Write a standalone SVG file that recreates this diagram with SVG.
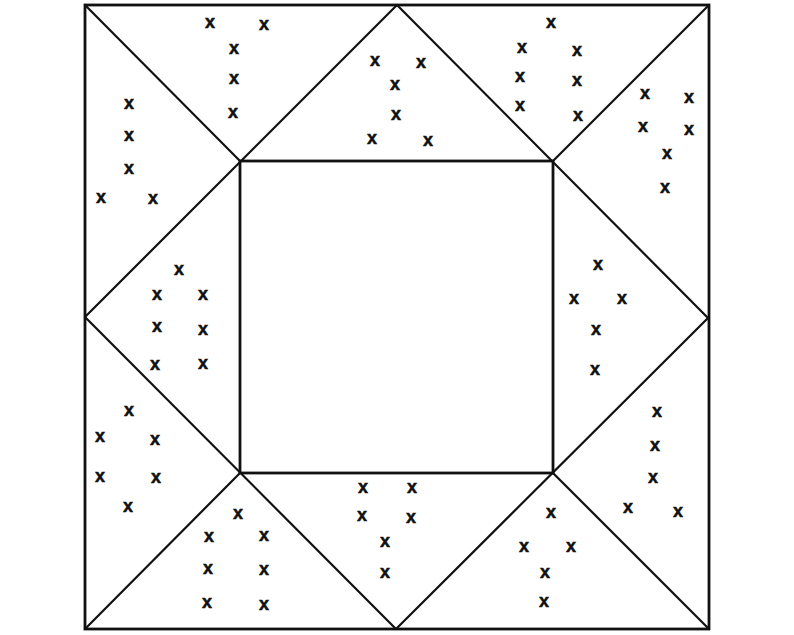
<svg xmlns="http://www.w3.org/2000/svg" width="794" height="635" viewBox="0 0 794 635">
<style>
.ln{stroke:#111;stroke-width:2.2;fill:none;stroke-linecap:round;stroke-linejoin:round}
.bx{stroke:#111;stroke-width:2.8;fill:none}
.m{font-family:"Liberation Sans",Arial,sans-serif;font-weight:bold;font-size:18px;fill:#111;stroke:#111;stroke-width:0.5;text-anchor:middle;dominant-baseline:central}
</style>
<rect width="794" height="635" fill="#fff"/>
<g id="frame">
<rect class="bx" x="85" y="5" width="624" height="624"/>
<rect class="bx" x="240" y="161" width="313" height="312"/>
<polygon class="ln" points="397,5 708,318 396,629 85,317"/>
<line class="ln" x1="85" y1="5" x2="240" y2="161"/>
<line class="ln" x1="709" y1="5" x2="553" y2="161"/>
<line class="ln" x1="85" y1="629" x2="240" y2="473"/>
<line class="ln" x1="709" y1="629" x2="553" y2="473"/>
</g>
<g id="marks">
<text class="m" x="210" y="22">x</text>
<text class="m" x="264" y="24">x</text>
<text class="m" x="234" y="48">x</text>
<text class="m" x="234" y="78">x</text>
<text class="m" x="233" y="112">x</text>
<text class="m" x="375" y="60">x</text>
<text class="m" x="395" y="84">x</text>
<text class="m" x="396" y="114">x</text>
<text class="m" x="372" y="138">x</text>
<text class="m" x="421" y="62">x</text>
<text class="m" x="428" y="140">x</text>
<text class="m" x="129" y="103">x</text>
<text class="m" x="129" y="135">x</text>
<text class="m" x="129" y="168">x</text>
<text class="m" x="101" y="197">x</text>
<text class="m" x="153" y="198">x</text>
<text class="m" x="551" y="22">x</text>
<text class="m" x="522" y="47">x</text>
<text class="m" x="577" y="50">x</text>
<text class="m" x="520" y="76">x</text>
<text class="m" x="577" y="80">x</text>
<text class="m" x="520" y="105">x</text>
<text class="m" x="578" y="115">x</text>
<text class="m" x="645" y="93">x</text>
<text class="m" x="689" y="97">x</text>
<text class="m" x="643" y="126">x</text>
<text class="m" x="689" y="129">x</text>
<text class="m" x="667" y="153">x</text>
<text class="m" x="665" y="187">x</text>
<text class="m" x="179" y="269">x</text>
<text class="m" x="157" y="294">x</text>
<text class="m" x="203" y="294">x</text>
<text class="m" x="157" y="326">x</text>
<text class="m" x="203" y="329">x</text>
<text class="m" x="155" y="364">x</text>
<text class="m" x="203" y="363">x</text>
<text class="m" x="598" y="264">x</text>
<text class="m" x="574" y="298">x</text>
<text class="m" x="622" y="298">x</text>
<text class="m" x="596" y="329">x</text>
<text class="m" x="595" y="369">x</text>
<text class="m" x="129" y="410">x</text>
<text class="m" x="100" y="436">x</text>
<text class="m" x="155" y="439">x</text>
<text class="m" x="100" y="476">x</text>
<text class="m" x="156" y="477">x</text>
<text class="m" x="128" y="506">x</text>
<text class="m" x="238" y="513">x</text>
<text class="m" x="209" y="536">x</text>
<text class="m" x="264" y="535">x</text>
<text class="m" x="208" y="568">x</text>
<text class="m" x="264" y="569">x</text>
<text class="m" x="207" y="602">x</text>
<text class="m" x="264" y="604">x</text>
<text class="m" x="363" y="487">x</text>
<text class="m" x="412" y="487">x</text>
<text class="m" x="362" y="515">x</text>
<text class="m" x="411" y="517">x</text>
<text class="m" x="385" y="541">x</text>
<text class="m" x="385" y="572">x</text>
<text class="m" x="657" y="411">x</text>
<text class="m" x="655" y="445">x</text>
<text class="m" x="653" y="477">x</text>
<text class="m" x="628" y="507">x</text>
<text class="m" x="678" y="511">x</text>
<text class="m" x="551" y="512">x</text>
<text class="m" x="524" y="546">x</text>
<text class="m" x="571" y="546">x</text>
<text class="m" x="545" y="572">x</text>
<text class="m" x="544" y="601">x</text>
</g>
</svg>
